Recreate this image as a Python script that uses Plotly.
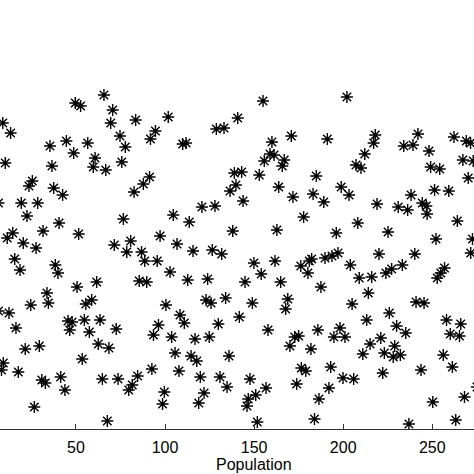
import plotly.graph_objects as go

# Population index (x) and objective value (y, arbitrary units)
population = [
    65.7, 49.6, 52.6, 70.6, 8.9, 13.3, 69.5, 83.5, 94.6, 91.8,
    74.7, 77.7, 35.4, 44.6, 56.6, 48.7, 10.3, 36.5, 60.7, 59.7,
    66.7, 75.7, 25.5, 23.6, 37.5, 42.5, 91.3, 87.8, 82.6, 19.3,
    28.5, 6.5, 22.5, 40.5, 76.6, 14.5, 11.4, 31.5, 51.5, 20.4,
    27.6, 71.5, 80.7, 78.5, 86.8, 97.2, 15.6, 155.0, 101.8, 140.8,
    128.8, 133.1, 109.9, 111.8, 170.9, 160.0, 158.9, 161.2, 155.7, 166.9,
    165.8, 184.9, 138.9, 143.0, 152.9, 139.8, 136.5, 143.8, 163.8, 171.8,
    183.1, 120.7, 128.0, 104.6, 113.6, 138.0, 162.8, 177.8, 106.7, 115.7,
    126.5, 131.8, 95.6, 161.7, 181.0, 202.1, 191.1, 218.0, 217.1, 242.0,
    234.0, 239.2, 248.2, 262.2, 269.1, 271.5, 212.1, 207.2, 210.0, 249.1,
    254.2, 267.2, 273.0, 270.2, 189.1, 198.9, 203.3, 251.3, 259.3, 238.1,
    219.0, 230.9, 236.2, 244.4, 246.7, 247.1, 264.1, 208.2, 196.1, 225.2,
    252.1, 272.6, 197.1, 193.7, 189.8, 220.1, 240.2, 271.6, 182.3, 18.6,
    38.4, 39.9, 88.6, 50.6, 61.6, 85.5, 89.7, 33.7, 34.5, 24.6,
    55.5, 58.8, 12.4, 6.5, 16.3, 45.5, 47.8, 46.5, 54.7, 63.5,
    57.5, 72.6, 96.3, 93.5, 21.5, 29.4, 62.5, 68.5, 53.5, 9.2,
    8.2, 17.6, 30.8, 32.8, 41.4, 43.8, 64.8, 73.6, 84.6, 92.6,
    81.6, 79.6, 26.6, 67.6, 98.6, 102.8, 112.7, 123.9, 149.9, 154.0,
    144.9, 164.9, 176.2, 180.2, 187.5, 100.5, 123.0, 125.8, 134.0, 149.0,
    168.9, 167.7, 108.4, 110.8, 103.7, 116.8, 124.8, 129.9, 141.7, 157.8,
    172.8, 175.0, 170.1, 181.9, 185.8, 105.6, 114.6, 117.8, 135.9, 107.8,
    119.8, 130.8, 134.8, 147.7, 156.7, 150.9, 146.7, 146.0, 176.5, 179.0,
    173.9, 99.6, 121.9, 118.9, 151.8, 183.9, 186.4, 204.0, 209.0, 216.0,
    224.0, 227.2, 233.2, 256.9, 254.8, 252.8, 214.1, 205.0, 240.9, 245.4,
    225.9, 213.2, 230.0, 235.1, 258.0, 266.0, 260.1, 265.3, 198.2, 194.8,
    201.0, 221.1, 215.1, 211.0, 223.1, 228.9, 228.1, 232.1, 256.2, 193.0,
    199.9, 205.9, 222.2, 243.7, 261.3, 192.0, 268.1, 250.3, 236.9, 263.2,
    275.1,
]

value = [
    334, 326, 323, 319, 306, 296, 306, 309, 298, 290,
    293, 282, 283, 288, 286, 276, 266, 263, 271, 262,
    259, 267, 248, 243, 241, 234, 252, 245, 237, 226,
    226, 226, 213, 206, 210, 196, 191, 198, 195, 186,
    181, 184, 188, 177, 177, 193, 170, 328, 312, 311,
    300, 301, 285, 286, 293, 287, 275, 274, 268, 269,
    263, 253, 256, 257, 254, 244, 238, 228, 242, 232,
    235, 222, 223, 214, 207, 198, 199, 212, 185, 178,
    179, 175, 168, 168, 168, 332, 290, 294, 286, 295,
    283, 284, 278, 292, 288, 286, 275, 264, 261, 262,
    260, 269, 268, 251, 227, 242, 234, 239, 238, 234,
    225, 222, 219, 226, 223, 215, 208, 206, 196, 197,
    190, 190, 176, 173, 171, 175, 175, 176, 170, 159,
    164, 156, 168, 142, 147, 148, 147, 136, 126, 124,
    125, 129, 116, 118, 101, 108, 107, 99, 109, 109,
    97, 100, 104, 94, 80, 83, 85, 81, 70, 66,
    59, 57, 49, 46, 52, 39, 50, 50, 53, 60,
    44, 39, 22, 8, 25, 157, 149, 150, 166, 155,
    147, 147, 163, 156, 142, 124, 129, 126, 131, 126,
    130, 120, 114, 106, 92, 90, 92, 105, 112, 99,
    92, 93, 83, 80, 99, 76, 73, 68, 73, 58,
    52, 52, 42, 50, 41, 34, 30, 23, 61, 58,
    45, 37, 36, 26, 7, 10, 30, 164, 151, 152,
    156, 160, 164, 161, 156, 151, 136, 125, 127, 126,
    116, 109, 103, 96, 109, 105, 95, 93, 101, 92,
    92, 91, 85, 75, 76, 83, 72, 74, 74, 62,
    51, 50, 56, 59, 62, 41, 32, 27, 5, 9,
    42,
]

x_ticks = [50, 100, 150, 200, 250]
x_title = "Population"
x_title_center = 150  # full axis spans 0-300; label sits under its centre

fig = go.Figure(
    go.Scatter(
        x=population,
        y=value,
        mode="markers",
        marker=dict(
            symbol="asterisk-open",
            size=10,
            color="black",
            line=dict(color="black", width=1.4),
        ),
        showlegend=False,
        hoverinfo="skip",
    )
)

fig.update_layout(
    width=474,
    height=474,
    margin=dict(l=0, r=0, t=0, b=45),
    paper_bgcolor="white",
    plot_bgcolor="white",
    hovermode=False,
    font=dict(family="Liberation Sans, Arial, sans-serif", size=16, color="black"),
    xaxis=dict(
        range=[7.34, 273.44],
        tickvals=x_ticks,
        ticktext=[str(t) for t in x_ticks],
        ticks="inside",
        ticklen=5,
        tickwidth=1,
        tickcolor="#333",
        ticklabelstandoff=4,
        showline=True,
        linecolor="#333",
        linewidth=1,
        showgrid=False,
        zeroline=False,
        tickfont=dict(size=16),
    ),
    yaxis=dict(range=[0, 429], visible=False),
    annotations=[
        dict(
            text=x_title,
            x=x_title_center,
            xref="x",
            y=0,
            yref="paper",
            xanchor="center",
            yanchor="top",
            yshift=-25,
            showarrow=False,
            font=dict(size=16, color="black"),
        )
    ],
)

fig.write_html(
    "out.html",
    config={"displayModeBar": False, "staticPlot": True},
    post_script="document.body.style.margin='0';document.body.style.overflow='hidden';",
)
